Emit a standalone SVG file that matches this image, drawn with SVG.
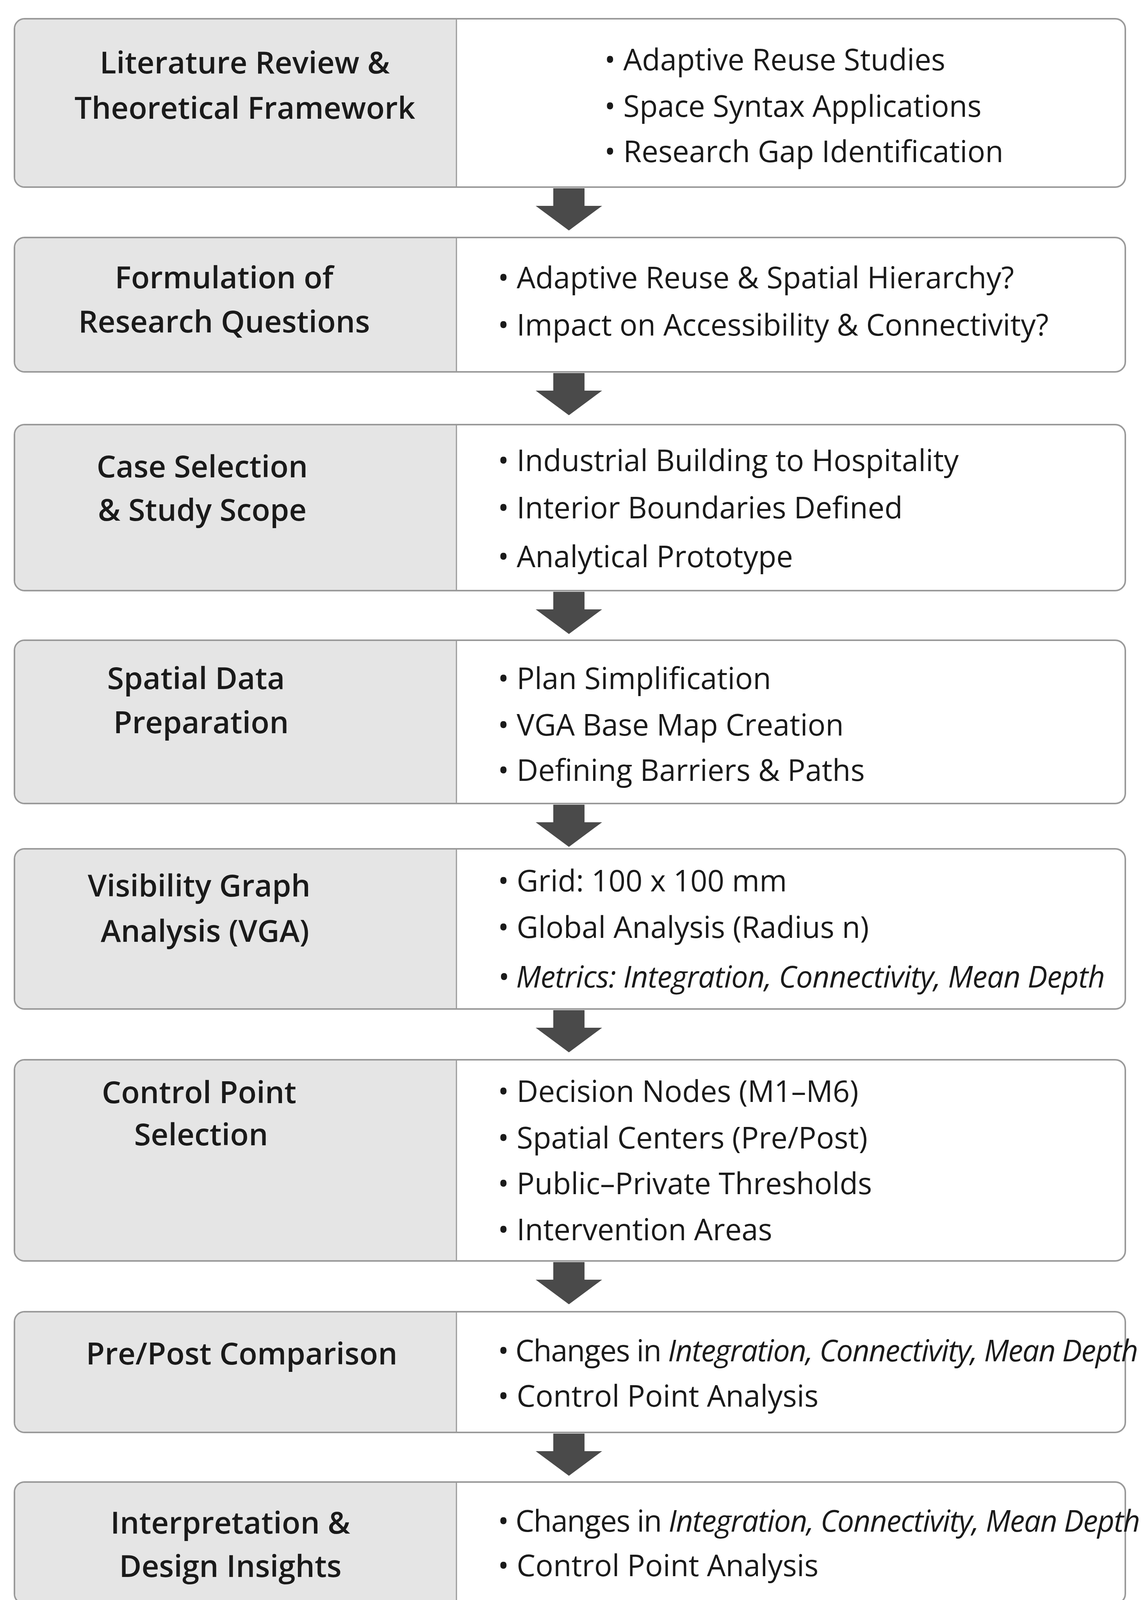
<svg xmlns="http://www.w3.org/2000/svg" width="2935" height="4141" viewBox="0 0 2935 4141">
<style>
.box{fill:#fff;stroke:#9a9a9a;stroke-width:4}
.lft{fill:#e5e5e5}
.div{stroke:#9a9a9a;stroke-width:3}
.lbl{font-family:"Open Sans","Noto Sans",sans-serif;font-size:78px;font-weight:600;fill:#1a1a1a;text-anchor:middle}
.bt{font-family:"Open Sans","Noto Sans",sans-serif;font-size:76px;fill:#1a1a1a}
.it{font-style:italic}
.arr{fill:#4a4a4a}
</style>
<rect width="2935" height="4141" fill="#fff"/>
<g id="n1">
<rect class="box" x="37" y="48" width="2845" height="431" rx="26"/>
<path class="lft" d="M63,50 H1169 V477 H63 A24,24 0 0 1 39,453 V74 A24,24 0 0 1 63,50Z"/>
<line class="div" x1="1169" y1="48" x2="1169" y2="479"/>
<text class="lbl" x="627" y="188">Literature Review &amp;</text>
<text class="lbl" x="627" y="304">Theoretical Framework</text>
<text class="bt" x="1548" y="180">•  Adaptive Reuse Studies</text>
<text class="bt" x="1548" y="299">•  Space Syntax Applications</text>
<text class="bt" x="1548" y="415">•  Research Gap Identification</text>
</g>
<g id="n2">
<rect class="box" x="37" y="608" width="2845" height="344" rx="26"/>
<path class="lft" d="M63,610 H1169 V950 H63 A24,24 0 0 1 39,926 V634 A24,24 0 0 1 63,610Z"/>
<line class="div" x1="1169" y1="608" x2="1169" y2="952"/>
<text class="lbl" x="574" y="738">Formulation of</text>
<text class="lbl" x="574" y="851">Research Questions</text>
<text class="bt" x="1275" y="738">•  Adaptive Reuse &amp; Spatial Hierarchy?</text>
<text class="bt" x="1275" y="859">•  Impact on Accessibility &amp; Connectivity?</text>
</g>
<g id="n3">
<rect class="box" x="37" y="1087" width="2845" height="425" rx="26"/>
<path class="lft" d="M63,1089 H1169 V1510 H63 A24,24 0 0 1 39,1486 V1113 A24,24 0 0 1 63,1089Z"/>
<line class="div" x1="1169" y1="1087" x2="1169" y2="1512"/>
<text class="lbl" x="518" y="1222">Case Selection</text>
<text class="lbl" x="518" y="1333">&amp; Study Scope</text>
<text class="bt" x="1275" y="1206">•  Industrial Building to Hospitality</text>
<text class="bt" x="1275" y="1327">•  Interior Boundaries Defined</text>
<text class="bt" x="1275" y="1452">•  Analytical Prototype</text>
</g>
<g id="n4">
<rect class="box" x="37" y="1639" width="2845" height="418" rx="26"/>
<path class="lft" d="M63,1641 H1169 V2055 H63 A24,24 0 0 1 39,2031 V1665 A24,24 0 0 1 63,1641Z"/>
<line class="div" x1="1169" y1="1639" x2="1169" y2="2057"/>
<text class="lbl" x="502" y="1764">Spatial Data</text>
<text class="lbl" x="515" y="1877">Preparation</text>
<text class="bt" x="1275" y="1764">•  Plan Simplification</text>
<text class="bt" x="1275" y="1883">•  VGA Base Map Creation</text>
<text class="bt" x="1275" y="1999">•  Defining Barriers &amp; Paths</text>
</g>
<g id="n5">
<rect class="box" x="37" y="2173" width="2845" height="410" rx="26"/>
<path class="lft" d="M63,2175 H1169 V2581 H63 A24,24 0 0 1 39,2557 V2199 A24,24 0 0 1 63,2175Z"/>
<line class="div" x1="1169" y1="2173" x2="1169" y2="2583"/>
<text class="lbl" x="510" y="2295">Visibility Graph</text>
<text class="lbl" x="525" y="2411">Analysis (VGA)</text>
<text class="bt" x="1275" y="2282">•  Grid: 100 x 100 mm</text>
<text class="bt" x="1275" y="2401">•  Global Analysis (Radius n)</text>
<text class="bt it" x="1275" y="2528" font-size="64" textLength="1555">•  Metrics: Integration, Connectivity,  Mean Depth</text>
</g>
<g id="n6">
<rect class="box" x="37" y="2713" width="2845" height="515" rx="26"/>
<path class="lft" d="M63,2715 H1169 V3226 H63 A24,24 0 0 1 39,3202 V2739 A24,24 0 0 1 63,2715Z"/>
<line class="div" x1="1169" y1="2713" x2="1169" y2="3228"/>
<text class="lbl" x="510" y="2824">Control Point</text>
<text class="lbl" x="515" y="2932">Selection</text>
<text class="bt" x="1275" y="2821">•  Decision Nodes (M1–M6)</text>
<text class="bt" x="1275" y="2940">•  Spatial Centers (Pre/Post)</text>
<text class="bt" x="1275" y="3057">•  Public–Private Thresholds</text>
<text class="bt" x="1275" y="3175">•  Intervention Areas</text>
</g>
<g id="n7">
<rect class="box" x="37" y="3358" width="2845" height="309" rx="26"/>
<path class="lft" d="M63,3360 H1169 V3665 H63 A24,24 0 0 1 39,3641 V3384 A24,24 0 0 1 63,3360Z"/>
<line class="div" x1="1169" y1="3358" x2="1169" y2="3667"/>
<text class="lbl" x="619" y="3493">Pre/Post Comparison</text>
<text class="bt" x="1275" y="3485" font-size="72" textLength="1640">•  Changes in <tspan class="it">Integration, Connectivity, Mean Depth</tspan></text>
<text class="bt" x="1275" y="3601">•  Control Point Analysis</text>
</g>
<g id="n8">
<rect class="box" x="37" y="3794" width="2845" height="312" rx="26"/>
<path class="lft" d="M63,3796 H1169 V4104 H63 A24,24 0 0 1 39,4080 V3820 A24,24 0 0 1 63,3796Z"/>
<line class="div" x1="1169" y1="3794" x2="1169" y2="4106"/>
<text class="lbl" x="590" y="3926">Interpretation &amp;</text>
<text class="lbl" x="590" y="4037">Design Insights</text>
<text class="bt" x="1275" y="3921" font-size="72" textLength="1645">•  Changes in   <tspan class="it">Integration, Connectivity, Mean Depth</tspan></text>
<text class="bt" x="1275" y="4035">•  Control Point Analysis</text>
</g>
<g id="connectors">
<polygon class="arr" points="1417,482 1497,482 1497,527 1542,527 1457,590 1372,527 1417,527"/>
<polygon class="arr" points="1417,955 1497,955 1497,1000 1542,1000 1457,1063 1372,1000 1417,1000"/>
<polygon class="arr" points="1417,1515 1497,1515 1497,1560 1542,1560 1457,1623 1372,1560 1417,1560"/>
<polygon class="arr" points="1417,2060 1497,2060 1497,2105 1542,2105 1457,2168 1372,2105 1417,2105"/>
<polygon class="arr" points="1417,2586 1497,2586 1497,2631 1542,2631 1457,2694 1372,2631 1417,2631"/>
<polygon class="arr" points="1417,3231 1497,3231 1497,3276 1542,3276 1457,3339 1372,3276 1417,3276"/>
<polygon class="arr" points="1417,3670 1497,3670 1497,3715 1542,3715 1457,3778 1372,3715 1417,3715"/>
</g>
</svg>
